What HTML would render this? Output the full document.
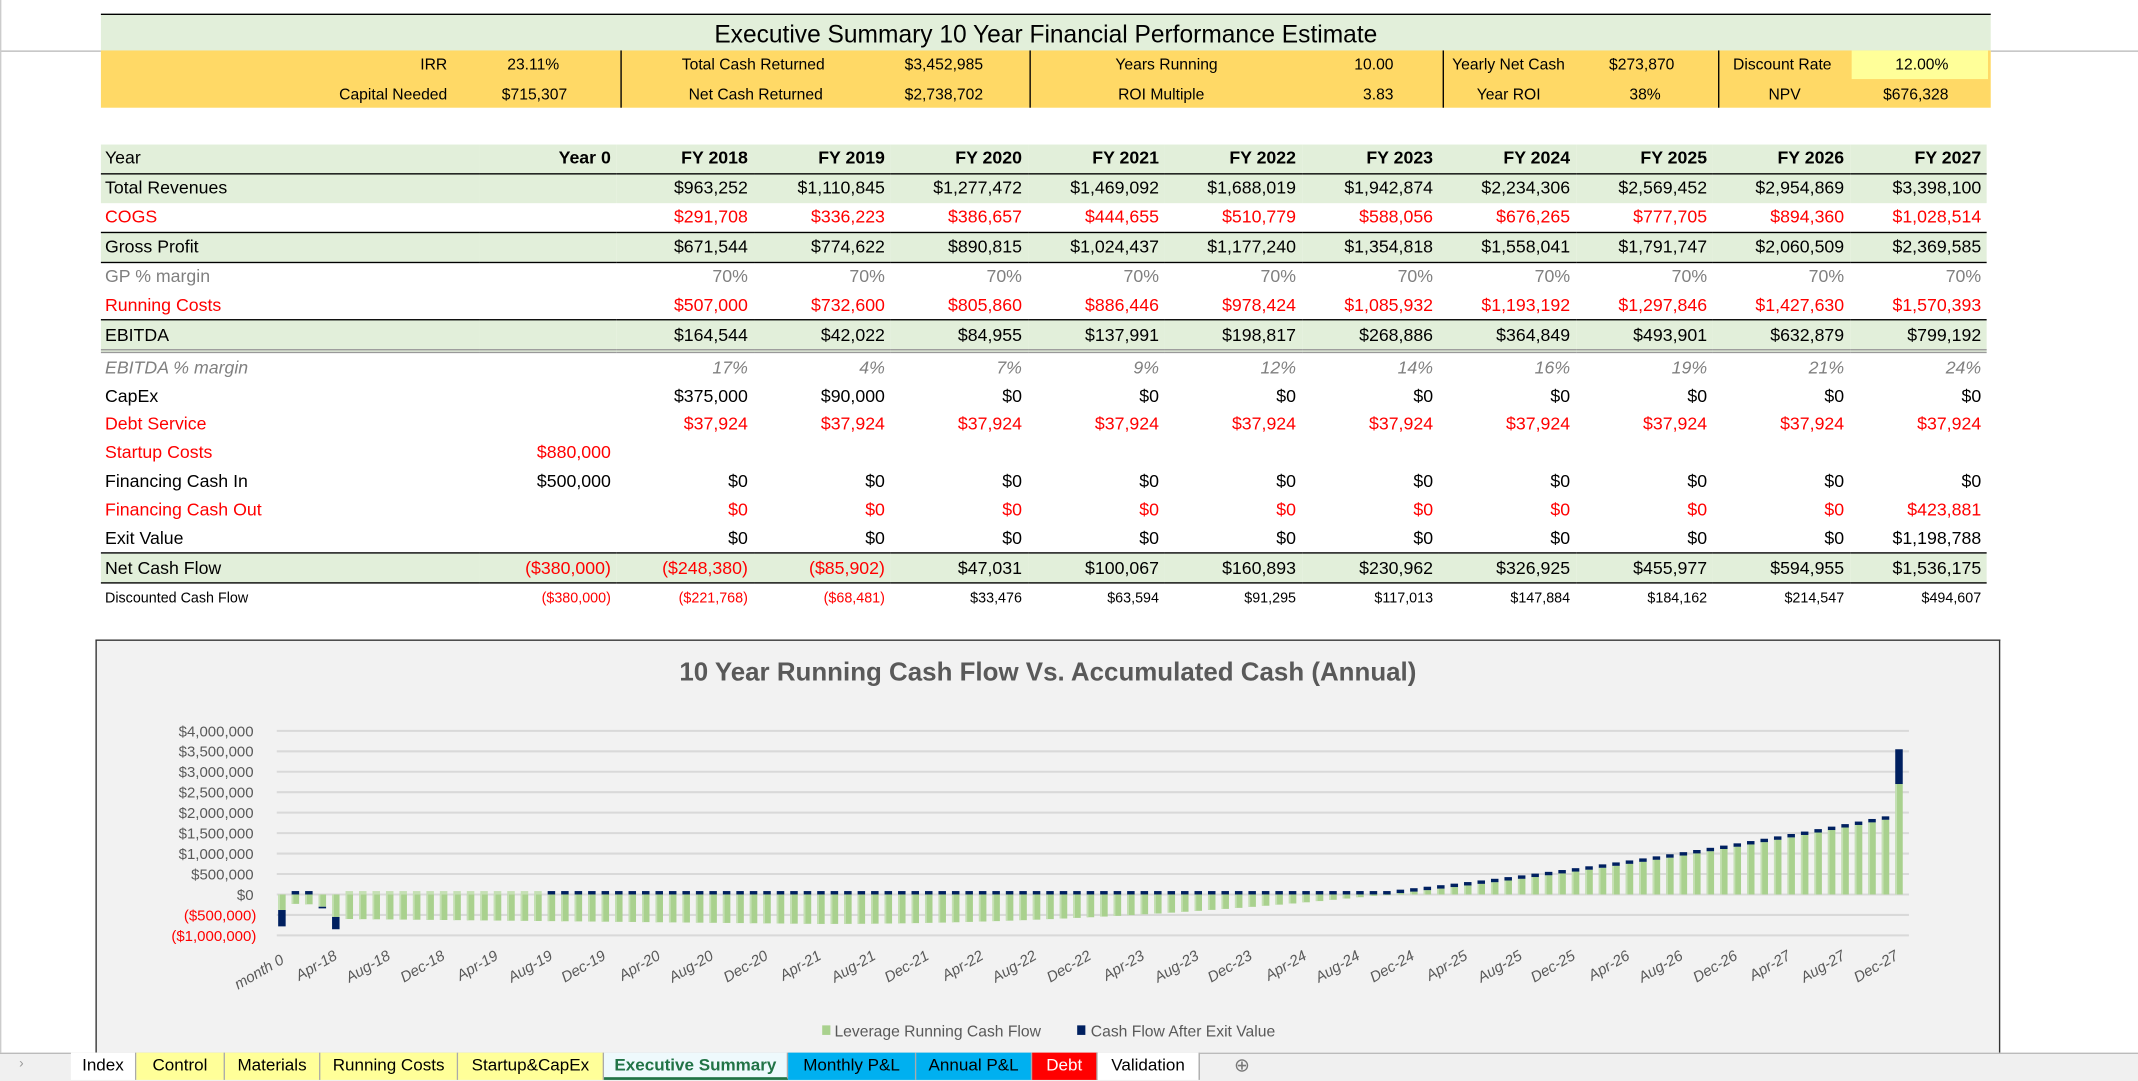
<!DOCTYPE html>
<html><head><meta charset="utf-8">
<style>
html,body{margin:0;padding:0;background:#fff;overflow:hidden}
#wrap{position:absolute;left:0;top:0;width:1568px;height:792px;transform:scale(1.36352);transform-origin:0 0;font-family:"Liberation Sans",sans-serif;}
.abs{position:absolute;white-space:nowrap}
table.m{position:absolute;left:74px;top:106px;border-collapse:collapse;table-layout:fixed;width:1383px;font-size:13px}
table.m td{height:20.9px;padding:0 4px;white-space:nowrap;overflow:visible;text-align:right;line-height:20px}
table.m td:first-child{text-align:left;padding-left:3px}
.g td{background:#e2efda}
.r td{color:#f00}
.gy td{color:#808080}
.it td{font-style:italic;color:#808080}
.hd td{font-weight:bold;text-align:center;border-bottom:1.5px solid #000}
.bt td{border-top:1px solid #000}
.bb td{border-bottom:1px solid #000}
.sm td{font-size:10.5px}
.sm td.n{color:#f00}
.ys{position:absolute;font-size:11.5px;white-space:nowrap}
.tab{position:absolute;top:772px;height:20px;font-size:12.5px;line-height:19px;text-align:center;border-right:1px solid #aaa;box-sizing:border-box}
</style></head><body><div id="wrap">
<div class="abs" style="left:0;top:37px;width:74px;height:1px;background:#bbb"></div>
<div class="abs" style="left:1460px;top:37px;width:108px;height:1px;background:#bbb"></div>
<div class="abs" style="left:0;top:0;width:1px;height:772px;background:#ccc"></div>
<div class="abs" style="left:74px;top:10px;width:1386px;height:27px;background:#e2efda;border-top:1px solid #000;text-align:center;font-size:18px;line-height:28px">Executive Summary 10 Year Financial Performance Estimate</div>
<div class="abs" style="left:74px;top:37px;width:1386px;height:42px;background:#ffd966"></div>
<div class="abs" style="left:1358px;top:37px;width:100px;height:21px;background:#ffff99"></div>
<div class="abs" style="left:455px;top:37px;width:1px;height:42px;background:#000"></div>
<div class="abs" style="left:755px;top:37px;width:1px;height:42px;background:#000"></div>
<div class="abs" style="left:1058px;top:37px;width:1px;height:42px;background:#000"></div>
<div class="abs" style="left:1260px;top:37px;width:1px;height:42px;background:#000"></div>
<div class="ys" style="right:1240px;top:42px">IRR</div>
<div class="ys" style="left:372px;top:42px">23.11%</div>
<div class="ys" style="right:1240px;top:64px">Capital Needed</div>
<div class="ys" style="left:368px;top:64px">$715,307</div>
<div class="ys" style="left:500px;top:42px">Total Cash Returned</div>
<div class="ys" style="right:847px;top:42px">$3,452,985</div>
<div class="ys" style="left:505px;top:64px">Net Cash Returned</div>
<div class="ys" style="right:847px;top:64px">$2,738,702</div>
<div class="ys" style="left:818px;top:42px">Years Running</div>
<div class="ys" style="right:546px;top:42px">10.00</div>
<div class="ys" style="left:820px;top:64px">ROI Multiple</div>
<div class="ys" style="right:546px;top:64px">3.83</div>
<div class="ys" style="left:1065px;top:42px">Yearly Net Cash</div>
<div class="ys" style="right:340px;top:42px">$273,870</div>
<div class="ys" style="left:1083px;top:64px">Year ROI</div>
<div class="ys" style="right:350px;top:64px">38%</div>
<div class="ys" style="left:1271px;top:42px">Discount Rate</div>
<div class="ys" style="right:139px;top:42px">12.00%</div>
<div class="ys" style="left:1297px;top:64px">NPV</div>
<div class="ys" style="right:139px;top:64px">$676,328</div>

<table class="m">
<colgroup><col style="width:278px"><col style="width:100px"><col span="10" style="width:100.5px"></colgroup>
<tr class="g hd"><td style="font-weight:normal;text-align:left">Year</td><td>Year 0</td><td>FY 2018</td><td>FY 2019</td><td>FY 2020</td><td>FY 2021</td><td>FY 2022</td><td>FY 2023</td><td>FY 2024</td><td>FY 2025</td><td>FY 2026</td><td>FY 2027</td></tr>
<tr class="g"><td>Total Revenues</td><td></td><td>$963,252</td><td>$1,110,845</td><td>$1,277,472</td><td>$1,469,092</td><td>$1,688,019</td><td>$1,942,874</td><td>$2,234,306</td><td>$2,569,452</td><td>$2,954,869</td><td>$3,398,100</td></tr>
<tr class="r"><td>COGS</td><td></td><td>$291,708</td><td>$336,223</td><td>$386,657</td><td>$444,655</td><td>$510,779</td><td>$588,056</td><td>$676,265</td><td>$777,705</td><td>$894,360</td><td>$1,028,514</td></tr>
<tr class="g bt bb"><td>Gross Profit</td><td></td><td>$671,544</td><td>$774,622</td><td>$890,815</td><td>$1,024,437</td><td>$1,177,240</td><td>$1,354,818</td><td>$1,558,041</td><td>$1,791,747</td><td>$2,060,509</td><td>$2,369,585</td></tr>
<tr class="gy"><td>GP % margin</td><td></td><td>70%</td><td>70%</td><td>70%</td><td>70%</td><td>70%</td><td>70%</td><td>70%</td><td>70%</td><td>70%</td><td>70%</td></tr>
<tr class="r"><td>Running Costs</td><td></td><td>$507,000</td><td>$732,600</td><td>$805,860</td><td>$886,446</td><td>$978,424</td><td>$1,085,932</td><td>$1,193,192</td><td>$1,297,846</td><td>$1,427,630</td><td>$1,570,393</td></tr>
<tr class="g bt"><td style="border-bottom:3px double #999">EBITDA</td><td style="border-bottom:3px double #999"></td><td style="border-bottom:3px double #999">$164,544</td><td style="border-bottom:3px double #999">$42,022</td><td style="border-bottom:3px double #999">$84,955</td><td style="border-bottom:3px double #999">$137,991</td><td style="border-bottom:3px double #999">$198,817</td><td style="border-bottom:3px double #999">$268,886</td><td style="border-bottom:3px double #999">$364,849</td><td style="border-bottom:3px double #999">$493,901</td><td style="border-bottom:3px double #999">$632,879</td><td style="border-bottom:3px double #999">$799,192</td></tr>
<tr class="it"><td>EBITDA % margin</td><td></td><td>17%</td><td>4%</td><td>7%</td><td>9%</td><td>12%</td><td>14%</td><td>16%</td><td>19%</td><td>21%</td><td>24%</td></tr>
<tr><td>CapEx</td><td></td><td>$375,000</td><td>$90,000</td><td>$0</td><td>$0</td><td>$0</td><td>$0</td><td>$0</td><td>$0</td><td>$0</td><td>$0</td></tr>
<tr class="r"><td>Debt Service</td><td></td><td>$37,924</td><td>$37,924</td><td>$37,924</td><td>$37,924</td><td>$37,924</td><td>$37,924</td><td>$37,924</td><td>$37,924</td><td>$37,924</td><td>$37,924</td></tr>
<tr class="r"><td>Startup Costs</td><td>$880,000</td><td></td><td></td><td></td><td></td><td></td><td></td><td></td><td></td><td></td><td></td></tr>
<tr><td>Financing Cash In</td><td>$500,000</td><td>$0</td><td>$0</td><td>$0</td><td>$0</td><td>$0</td><td>$0</td><td>$0</td><td>$0</td><td>$0</td><td>$0</td></tr>
<tr class="r"><td>Financing Cash Out</td><td></td><td>$0</td><td>$0</td><td>$0</td><td>$0</td><td>$0</td><td>$0</td><td>$0</td><td>$0</td><td>$0</td><td>$423,881</td></tr>
<tr><td>Exit Value</td><td></td><td>$0</td><td>$0</td><td>$0</td><td>$0</td><td>$0</td><td>$0</td><td>$0</td><td>$0</td><td>$0</td><td>$1,198,788</td></tr>
<tr class="g bt bb"><td>Net Cash Flow</td><td style="color:#f00">($380,000)</td><td style="color:#f00">($248,380)</td><td style="color:#f00">($85,902)</td><td>$47,031</td><td>$100,067</td><td>$160,893</td><td>$230,962</td><td>$326,925</td><td>$455,977</td><td>$594,955</td><td>$1,536,175</td></tr>
<tr class="sm"><td>Discounted Cash Flow</td><td class="n">($380,000)</td><td class="n">($221,768)</td><td class="n">($68,481)</td><td>$33,476</td><td>$63,594</td><td>$91,295</td><td>$117,013</td><td>$147,884</td><td>$184,162</td><td>$214,547</td><td>$494,607</td></tr>
</table>

<div class="abs" style="left:70px;top:469px;width:1395px;height:310px;background:#f2f2f2;border:1.5px solid #333;border-bottom:none"></div>
<div class="abs" style="left:70px;top:483px;width:1397px;text-align:center;font-size:19px;font-weight:bold;color:#595959">10 Year Running Cash Flow Vs. Accumulated Cash (Annual)</div>
<svg class="abs" style="left:0;top:0" width="1568" height="792" id="ch" font-family="Liberation Sans, sans-serif">
<g stroke="#d9d9d9" stroke-width="1.5">
<line x1="203" x2="1400" y1="536" y2="536"/><line x1="203" x2="1400" y1="551" y2="551"/><line x1="203" x2="1400" y1="566" y2="566"/><line x1="203" x2="1400" y1="581" y2="581"/><line x1="203" x2="1400" y1="596" y2="596"/><line x1="203" x2="1400" y1="611" y2="611"/><line x1="203" x2="1400" y1="626" y2="626"/><line x1="203" x2="1400" y1="641" y2="641"/><line x1="203" x2="1400" y1="656" y2="656"/><line x1="203" x2="1400" y1="671" y2="671"/><line x1="203" x2="1400" y1="686" y2="686"/>
</g>
<g font-size="11" fill="#595959" text-anchor="end">
<text x="186" y="540">$4,000,000</text><text x="186" y="555">$3,500,000</text><text x="186" y="570">$3,000,000</text><text x="186" y="585">$2,500,000</text><text x="186" y="600">$2,000,000</text><text x="186" y="615">$1,500,000</text><text x="186" y="630">$1,000,000</text><text x="186" y="645">$500,000</text><text x="186" y="660">$0</text>
<text x="188" y="675" fill="#f00">($500,000)</text><text x="188" y="690" fill="#f00">($1,000,000)</text>
</g>
<g id="bars"></g>
<g font-size="11" fill="#595959" font-style="italic" text-anchor="end">
<text transform="translate(209,706) rotate(-30)">month 0</text>
<text transform="translate(248,703) rotate(-30)">Apr-18</text>
<text transform="translate(287,703) rotate(-30)">Aug-18</text>
<text transform="translate(327,703) rotate(-30)">Dec-18</text>
<text transform="translate(366,703) rotate(-30)">Apr-19</text>
<text transform="translate(406,703) rotate(-30)">Aug-19</text>
<text transform="translate(445,703) rotate(-30)">Dec-19</text>
<text transform="translate(485,703) rotate(-30)">Apr-20</text>
<text transform="translate(524,703) rotate(-30)">Aug-20</text>
<text transform="translate(564,703) rotate(-30)">Dec-20</text>
<text transform="translate(603,703) rotate(-30)">Apr-21</text>
<text transform="translate(643,703) rotate(-30)">Aug-21</text>
<text transform="translate(682,703) rotate(-30)">Dec-21</text>
<text transform="translate(722,703) rotate(-30)">Apr-22</text>
<text transform="translate(761,703) rotate(-30)">Aug-22</text>
<text transform="translate(801,703) rotate(-30)">Dec-22</text>
<text transform="translate(840,703) rotate(-30)">Apr-23</text>
<text transform="translate(880,703) rotate(-30)">Aug-23</text>
<text transform="translate(919,703) rotate(-30)">Dec-23</text>
<text transform="translate(959,703) rotate(-30)">Apr-24</text>
<text transform="translate(998,703) rotate(-30)">Aug-24</text>
<text transform="translate(1038,703) rotate(-30)">Dec-24</text>
<text transform="translate(1077,703) rotate(-30)">Apr-25</text>
<text transform="translate(1117,703) rotate(-30)">Aug-25</text>
<text transform="translate(1156,703) rotate(-30)">Dec-25</text>
<text transform="translate(1196,703) rotate(-30)">Apr-26</text>
<text transform="translate(1235,703) rotate(-30)">Aug-26</text>
<text transform="translate(1275,703) rotate(-30)">Dec-26</text>
<text transform="translate(1314,703) rotate(-30)">Apr-27</text>
<text transform="translate(1354,703) rotate(-30)">Aug-27</text>
<text transform="translate(1393,703) rotate(-30)">Dec-27</text>
</g>
<rect x="603" y="752" width="6" height="7" fill="#a9d18e"/>
<text x="612" y="760" font-size="11.5" fill="#595959">Leverage Running Cash Flow</text>
<rect x="790" y="752" width="6" height="7" fill="#002060"/>
<text x="800" y="760" font-size="11.5" fill="#595959">Cash Flow After Exit Value</text>
</svg>

<div class="abs" style="left:0;top:772px;width:1568px;height:20px;background:#f0f0f0;border-top:1px solid #bbb"></div>
<div class="abs" style="left:14px;top:775px;font-size:10px;color:#999">›</div>
<div class="tab" style="left:52px;width:48px;background:#fff">Index</div>
<div class="tab" style="left:100px;width:65px;background:#ffff99">Control</div>
<div class="tab" style="left:165px;width:70px;background:#ffff99">Materials</div>
<div class="tab" style="left:235px;width:101px;background:#ffff99">Running Costs</div>
<div class="tab" style="left:336px;width:107px;background:#ffff99">Startup&amp;CapEx</div>
<div class="tab" style="left:443px;width:135px;background:#eef9fc;color:#217346;font-weight:bold;border-bottom:2px solid #217346">Executive Summary</div>
<div class="tab" style="left:578px;width:94px;background:#00b0f0">Monthly P&amp;L</div>
<div class="tab" style="left:672px;width:85px;background:#00b0f0">Annual P&amp;L</div>
<div class="tab" style="left:757px;width:48px;background:#f00;color:#fff">Debt</div>
<div class="tab" style="left:805px;width:75px;background:#fff">Validation</div>
<div class="abs" style="left:905px;top:773px;font-size:14px;color:#777">⊕</div>
</div>
<script>
(function(){
var g=document.getElementById('bars'),ns='http://www.w3.org/2000/svg';
var y0=656,k=15/500000;
function R(x,y,w,h,f){var r=document.createElementNS(ns,'rect');r.setAttribute('x',x);r.setAttribute('y',y);r.setAttribute('width',w);r.setAttribute('height',Math.max(h,0.5));r.setAttribute('fill',f);g.appendChild(r);}
var early=[-380e3,-230e3,-240e3,-300e3,-550e3];
for(var i=0;i<=120;i++){
 var x=204+i*9.883,v,nav=null;
 if(i<5)v=early[i];else if(i<=40)v=-600e3-(i-5)/35*120e3;else v=-720e3+408*Math.pow(i-40,2);
 if(i==0)nav=-780e3; if(i==4)nav=-850e3; if(i==3)nav=-340e3;
 var w=5.5;
 if(i==120){v=2.7e6;}
 var yv=y0-v*k;
 R(x,Math.min(y0,yv),w,Math.abs(yv-y0),'#a9d18e');
 R(x,Math.min(y0,yv),1.3,Math.abs(yv-y0),'#c5e0b4');
 if(i==120){R(x,y0-3.55e6*k,w,(3.55e6-2.7e6)*k,'#002060');}
 else if(nav!==null){var yn=y0-nav*k;R(x,yv,w,yn-yv,'#002060');}
 else if(v>0){R(x,yv-2.5,w,2.5,'#002060');}
 else if(i>=20||i==1||i==2){R(x,y0-2.5,w,2.5,'#002060');}
 else {R(x,y0-2.5,w,2.5,'#c5e0b4');}
}
})();
</script>
</body></html>
